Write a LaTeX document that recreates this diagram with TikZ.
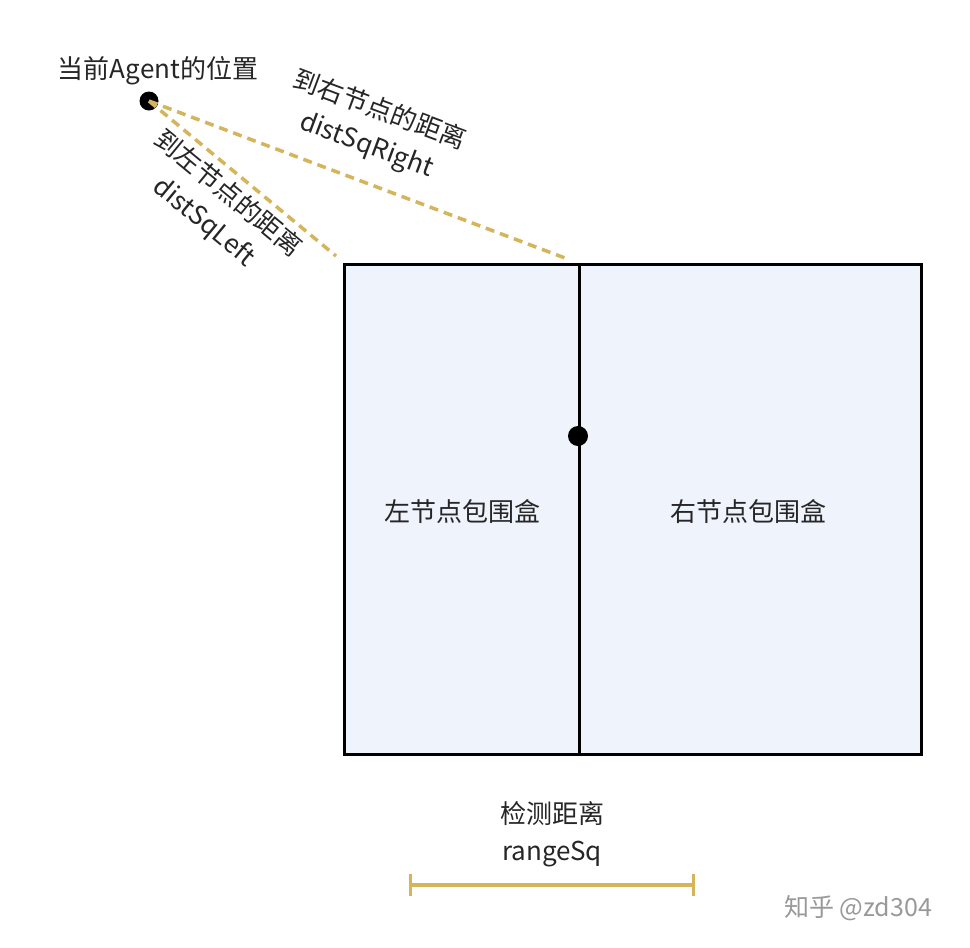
\documentclass[tikz,border=0pt]{standalone}
\usepackage{fontspec}
\setmainfont{Noto Sans CJK SC}
\begin{document}
\begin{tikzpicture}[x=1pt,y=-1pt,
  lbl/.style={font=\fontsize{26}{37}\selectfont, align=center, text=black!85},
  box/.style={draw=black, line width=3pt, fill=boxfill},
  dist/.style={draw=gold, dashed, dash pattern=on 9pt off 6pt, line width=3.5pt},
  dotnode/.style={circle, fill=black, inner sep=0pt, minimum size=20pt}]
\definecolor{gold}{HTML}{D4B55C}
\definecolor{boxfill}{HTML}{EEF3FC}
\useasboundingbox[fill=white] (0,0) rectangle (970,948);
\node[box, minimum width=235pt, minimum height=490pt, inner sep=0pt, anchor=north west] (L) at (343,263) {};
\node[box, minimum width=342pt, minimum height=490pt, inner sep=0pt, anchor=north west] (R) at (578,263) {};
\node[lbl] at (462,512) {左节点包围盒};
\node[lbl] at (748,512) {右节点包围盒};
\node[dotnode] (mid) at (578,436) {};
\node[dotnode, minimum size=19pt] (agent) at (149,101) {};
\node[lbl] (al) at (158,71) {当前Agent的位置};
\coordinate (lt) at (336,256);
\coordinate (rt) at (565,258);
\draw[dist] (agent.center) -- (lt);
\draw[dist] (agent.center) -- (rt);
\node[lbl, rotate=-20.5] (rl) at (373,128) {到右节点的距离\\distSqRight};
\node[lbl, rotate=-39.5] (ll) at (216,208) {到左节点的距离\\distSqLeft};
\node[lbl] (rg) at (552,834) {检测距离\\rangeSq};
\coordinate (b1) at (410,885);
\coordinate (b2) at (693,885);
\draw[gold, line width=3.5pt] (b1) -- (b2);
\draw[gold, line width=3pt] ([yshift=-11pt]b1) -- ([yshift=11pt]b1);
\draw[gold, line width=3pt] ([yshift=-11pt]b2) -- ([yshift=11pt]b2);
\node[font=\fontsize{25}{28}\selectfont, text=black!40] (wm) at (858,908) {知乎 @zd304};
\end{tikzpicture}
\end{document}
